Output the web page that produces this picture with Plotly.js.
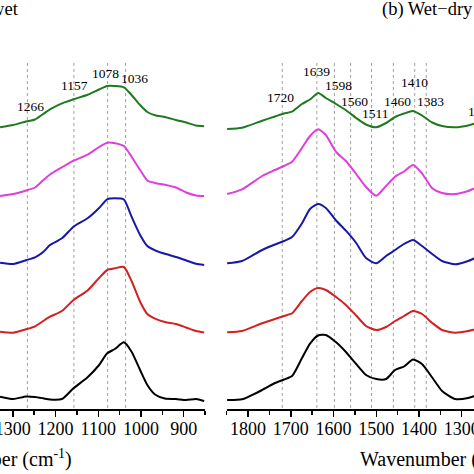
<!DOCTYPE html>
<html>
<head>
<meta charset="utf-8">
<script src="https://cdn.plot.ly/plotly-3.0.1.min.js"></script>
<style>
  html, body { margin: 0; padding: 0; width: 474px; height: 474px; overflow: hidden; background: #fff; }
  #chart { position: absolute; left: -222px; top: 0; width: 876px; height: 474px; }
</style>
</head>
<body>
<div id="chart"></div>
<script>
// Wavenumber grids (cm-1) for panel (a) and panel (b)
const wnA = [1330,1299,1269,1248,1229,1213,1185,1158,1125,1098,1079,1061,1040,1022,1002,985,967,944,918,894,871,852];
const wnB = [1849,1814,1767,1737,1716,1697,1674,1655,1636,1618,1594,1571,1547,1524,1500,1477,1456,1435,1414,1393,1369,1346,1315,1285,1257];

// Panel (a): stacked absorbance (a.u.), top spectrum first
const specA1 = [2.807,2.83,2.865,2.885,2.94,2.987,3.047,3.087,3.133,3.185,3.22,3.22,3.207,3.13,3.03,2.96,2.927,2.91,2.88,2.855,2.825,2.818];
const specA2 = [2.12,2.14,2.175,2.205,2.277,2.335,2.407,2.473,2.533,2.61,2.653,2.648,2.62,2.513,2.38,2.275,2.25,2.232,2.205,2.155,2.125,2.12];
const specA3 = [1.453,1.44,1.478,1.507,1.56,1.63,1.697,1.813,1.897,2.0,2.087,2.097,2.085,1.913,1.73,1.62,1.577,1.542,1.51,1.475,1.442,1.43];
const specA4 = [0.763,0.753,0.787,0.817,0.87,0.913,0.97,1.08,1.175,1.30,1.38,1.397,1.41,1.27,1.063,0.94,0.893,0.86,0.84,0.805,0.77,0.755];
const specA5 = [0.113,0.09,0.115,0.11,0.097,0.085,0.09,0.197,0.307,0.43,0.547,0.59,0.657,0.563,0.38,0.23,0.135,0.095,0.09,0.08,0.09,0.07];

// Panel (b): stacked absorbance (a.u.), top spectrum first
const specB1 = [2.79,2.803,2.873,2.915,2.945,2.963,3.04,3.085,3.15,3.10,3.04,2.978,2.90,2.835,2.807,2.85,2.91,2.945,2.97,2.925,2.855,2.82,2.807,2.825,2.86];
const specB2 = [2.14,2.187,2.32,2.38,2.42,2.463,2.60,2.72,2.787,2.73,2.56,2.47,2.34,2.21,2.123,2.22,2.313,2.365,2.43,2.347,2.197,2.15,2.14,2.17,2.22];
const specB3 = [1.447,1.47,1.58,1.635,1.67,1.71,1.845,1.99,2.04,2.0,1.875,1.773,1.65,1.50,1.447,1.52,1.58,1.64,1.68,1.62,1.54,1.47,1.437,1.47,1.52];
const specB4 = [0.757,0.77,0.847,0.89,0.92,0.947,1.07,1.16,1.20,1.18,1.11,1.03,0.925,0.82,0.78,0.81,0.87,0.92,0.97,0.94,0.85,0.78,0.753,0.77,0.80];
const specB5 = [0.08,0.087,0.18,0.25,0.285,0.32,0.497,0.643,0.725,0.73,0.657,0.56,0.44,0.33,0.29,0.29,0.38,0.415,0.485,0.44,0.305,0.17,0.09,0.10,0.14];

// Assigned band positions (cm-1)
const bandsA = [1266, 1157, 1078, 1036];
const bandsB = [1720, 1639, 1598, 1560, 1511, 1460, 1410, 1383, 1266];

const lineColors = ['#1f7a1f', '#dd3fdd', '#1818a8', '#d42020', '#000000'];

// Label placement (height in a.u., horizontal nudge in px)
const labelYA = [3.013, 3.227, 3.347, 3.30];
const labelShiftA = [3, 1, -2, 9];
const labelYB = [3.103, 3.363, 3.23, 3.063, 2.943, 3.063, 3.257, 3.063, 2.97];
const labelShiftB = [-2, 0, 4, 4, 4, 4, 0, 4, 5];

const FONT = 'Liberation Serif, Times New Roman, serif';

const specsA = [specA1, specA2, specA3, specA4, specA5];
const specsB = [specB1, specB2, specB3, specB4, specB5];

const traces = [];
specsA.forEach((s, i) => traces.push({
  x: wnA, y: s, type: 'scatter', mode: 'lines', xaxis: 'x', yaxis: 'y',
  line: { color: lineColors[i], width: 2, shape: 'spline', smoothing: 0.6 },
  hoverinfo: 'skip'
}));
specsB.forEach((s, i) => traces.push({
  x: wnB, y: s, type: 'scatter', mode: 'lines', xaxis: 'x2', yaxis: 'y',
  line: { color: lineColors[i], width: 2, shape: 'spline', smoothing: 0.6 },
  hoverinfo: 'skip'
}));

function wavenumberAxis(domain) {
  return {
    domain: domain, anchor: 'y', range: [1850, 850], autorange: false,
    tickmode: 'linear', tick0: 0, dtick: 100,
    ticks: 'outside', ticklen: 6, tickwidth: 1.5, tickcolor: '#000',
    ticklabelstandoff: -3,
    minor: { tickmode: 'linear', tick0: 0, dtick: 50, ticks: 'outside', ticklen: 4, tickwidth: 1.5, tickcolor: '#000', showgrid: false },
    showline: true, linecolor: '#000', linewidth: 1.6,
    showgrid: false, zeroline: false,
    tickfont: { family: FONT, size: 18, color: '#000' },
    title: { text: 'Wavenumber (cm<sup>-1</sup>)', font: { family: FONT, size: 20, color: '#000' }, standoff: 14 },
    automargin: false, fixedrange: true
  };
}

const TOP = 3.47;
const shapes = [];
bandsA.forEach(b => shapes.push({ type: 'line', xref: 'x', yref: 'y', x0: b, x1: b, y0: 0, y1: TOP, layer: 'below', line: { color: '#a0a0a0', width: 1, dash: 'dot' } }));
bandsB.forEach(b => shapes.push({ type: 'line', xref: 'x2', yref: 'y', x0: b, x1: b, y0: 0, y1: TOP, layer: 'below', line: { color: '#a0a0a0', width: 1, dash: 'dot' } }));

const annotations = [];
bandsA.forEach((b, i) => annotations.push({ xref: 'x', yref: 'y', x: b, y: labelYA[i], xshift: labelShiftA[i], text: String(b), showarrow: false, font: { family: FONT, size: 13.5, color: '#000' } }));
bandsB.forEach((b, i) => annotations.push({ xref: 'x2', yref: 'y', x: b, y: labelYB[i], xshift: labelShiftB[i], text: String(b), showarrow: false, font: { family: FONT, size: 13.5, color: '#000' } }));

// Panel titles
annotations.push({ xref: 'x', yref: 'paper', x: 1281, y: 1, xanchor: 'right', yanchor: 'top', yshift: 3, text: '(a) Continuous wet', showarrow: false, font: { family: FONT, size: 18.5, color: '#000' } });
annotations.push({ xref: 'x2', yref: 'paper', x: 1491, y: 1, xanchor: 'left', yanchor: 'top', yshift: 3, text: '(b) Wet\u2212dry cycles', showarrow: false, font: { family: FONT, size: 18.5, color: '#000' } });

const layout = {
  width: 876, height: 474,
  margin: { l: 0, r: 0, t: 0, b: 65, pad: 0 },
  paper_bgcolor: '#fff', plot_bgcolor: '#fff',
  showlegend: false,
  font: { family: FONT, color: '#000' },
  xaxis: wavenumberAxis([0, 427 / 876]),
  xaxis2: wavenumberAxis([448.7 / 876, 1]),
  yaxis: { range: [-0.01, 4.08], autorange: false, visible: false, fixedrange: true, domain: [0, 1] },
  shapes: shapes,
  annotations: annotations
};

Plotly.newPlot('chart', traces, layout, { staticPlot: true, displayModeBar: false });
</script>
</body>
</html>
